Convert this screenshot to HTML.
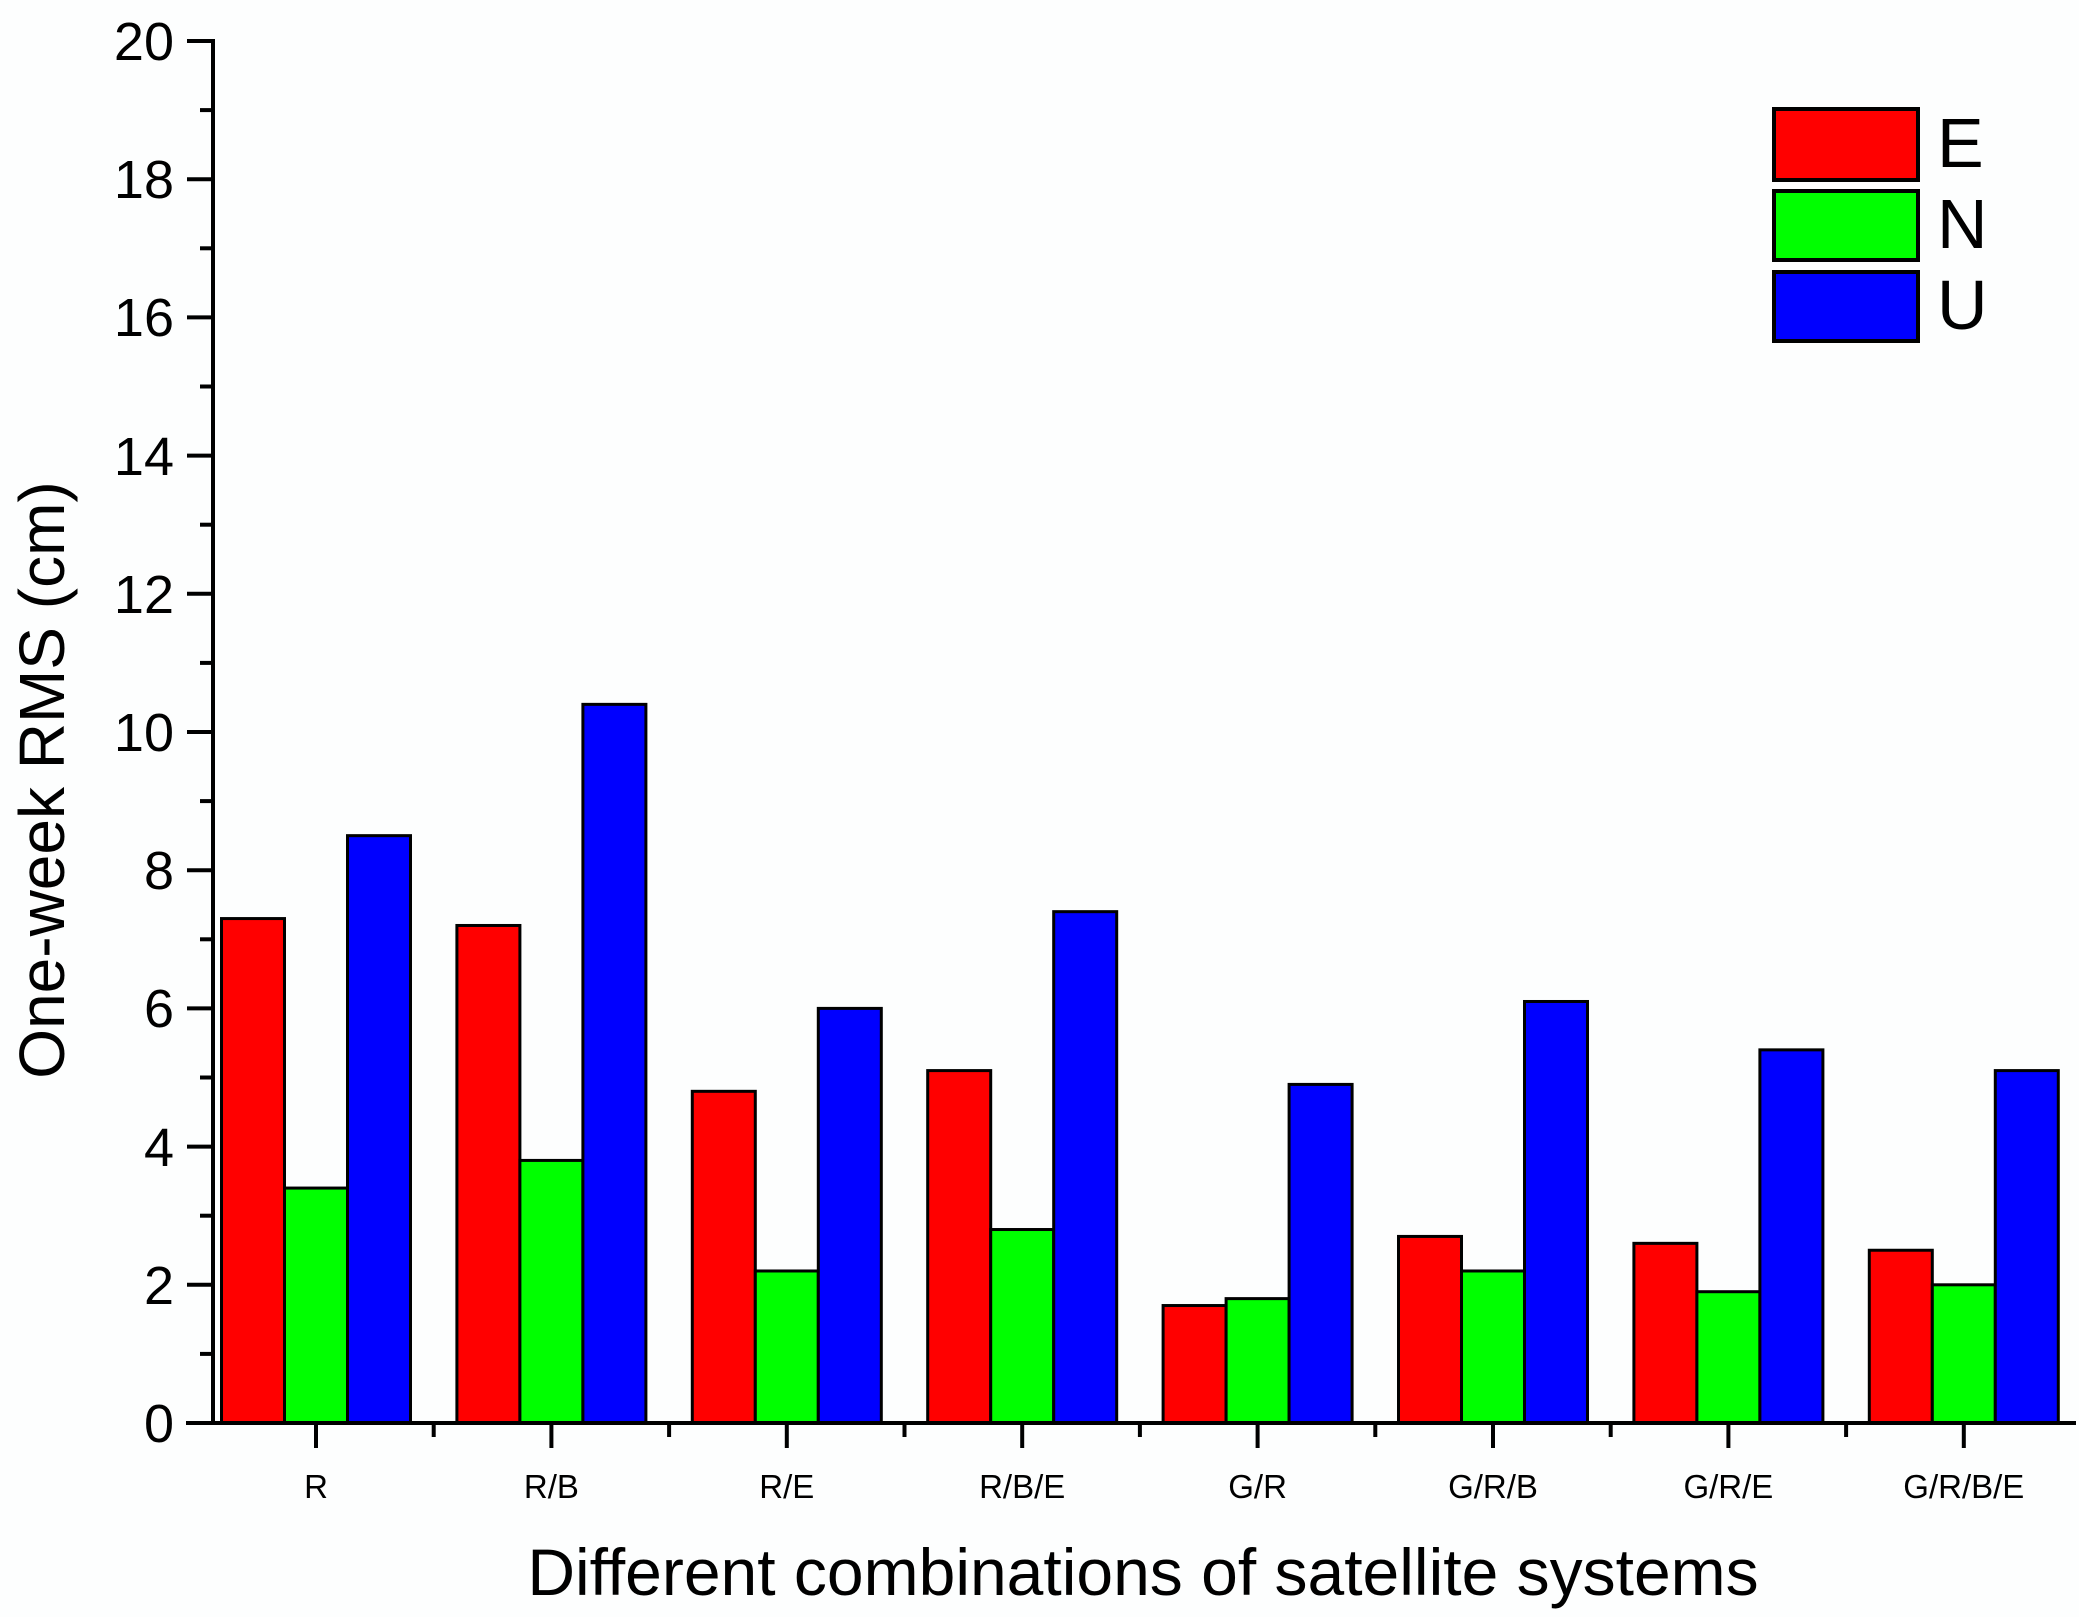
<!DOCTYPE html>
<html><head><meta charset="utf-8"><style>
html,body{margin:0;padding:0;background:#fff;}
svg{display:block;font-family:"Liberation Sans",Arial,sans-serif;}
</style></head><body>
<svg width="2079" height="1617" viewBox="0 0 2079 1617" xmlns="http://www.w3.org/2000/svg">
<rect width="2079" height="1617" fill="#fdfefe"/>
<g id="bars" stroke="#000" stroke-width="3"></g>
<script>
(function(){
var E=[7.3,7.2,4.8,5.1,1.7,2.7,2.6,2.5],N=[3.4,3.8,2.2,2.8,1.8,2.2,1.9,2.0],U=[8.5,10.4,6.0,7.4,4.9,6.1,5.4,5.1];
var y0=1423,pu=69.1,cx0=316,st=235.4,w=63,g=document.getElementById('bars'),ns='http://www.w3.org/2000/svg';
function r(x,v,c){var e=document.createElementNS(ns,'rect');e.setAttribute('x',x);e.setAttribute('y',y0-v*pu);e.setAttribute('width',w);e.setAttribute('height',v*pu);e.setAttribute('fill',c);g.appendChild(e);}
for(var i=0;i<8;i++){var c=cx0+i*st;r(c-94.5,E[i],'#ff0000');r(c-31.5,N[i],'#00ff00');r(c+31.5,U[i],'#0000ff');}
})();
</script>
<g stroke="#000" stroke-width="4" fill="none">
<line x1="213" y1="39" x2="213" y2="1425"/>
<line x1="186" y1="1423" x2="2076" y2="1423"/>
</g>
<g stroke="#000" stroke-width="4">
<line x1="187" y1="41" x2="213" y2="41"/><line x1="200" y1="110.1" x2="213" y2="110.1"/>
<line x1="187" y1="179.2" x2="213" y2="179.2"/><line x1="200" y1="248.3" x2="213" y2="248.3"/>
<line x1="187" y1="317.4" x2="213" y2="317.4"/><line x1="200" y1="386.5" x2="213" y2="386.5"/>
<line x1="187" y1="455.6" x2="213" y2="455.6"/><line x1="200" y1="524.7" x2="213" y2="524.7"/>
<line x1="187" y1="593.8" x2="213" y2="593.8"/><line x1="200" y1="662.9" x2="213" y2="662.9"/>
<line x1="187" y1="732" x2="213" y2="732"/><line x1="200" y1="801.1" x2="213" y2="801.1"/>
<line x1="187" y1="870.2" x2="213" y2="870.2"/><line x1="200" y1="939.3" x2="213" y2="939.3"/>
<line x1="187" y1="1008.4" x2="213" y2="1008.4"/><line x1="200" y1="1077.5" x2="213" y2="1077.5"/>
<line x1="187" y1="1146.6" x2="213" y2="1146.6"/><line x1="200" y1="1215.7" x2="213" y2="1215.7"/>
<line x1="187" y1="1284.8" x2="213" y2="1284.8"/><line x1="200" y1="1353.9" x2="213" y2="1353.9"/>
<line x1="316" y1="1423" x2="316" y2="1448"/><line x1="433.7" y1="1423" x2="433.7" y2="1437"/>
<line x1="551.4" y1="1423" x2="551.4" y2="1448"/><line x1="669.1" y1="1423" x2="669.1" y2="1437"/>
<line x1="786.8" y1="1423" x2="786.8" y2="1448"/><line x1="904.5" y1="1423" x2="904.5" y2="1437"/>
<line x1="1022.2" y1="1423" x2="1022.2" y2="1448"/><line x1="1139.9" y1="1423" x2="1139.9" y2="1437"/>
<line x1="1257.6" y1="1423" x2="1257.6" y2="1448"/><line x1="1375.3" y1="1423" x2="1375.3" y2="1437"/>
<line x1="1493" y1="1423" x2="1493" y2="1448"/><line x1="1610.7" y1="1423" x2="1610.7" y2="1437"/>
<line x1="1728.4" y1="1423" x2="1728.4" y2="1448"/><line x1="1846.1" y1="1423" x2="1846.1" y2="1437"/>
<line x1="1963.8" y1="1423" x2="1963.8" y2="1448"/>
</g>
<g font-size="54" text-anchor="end" fill="#000">
<text x="174" y="60">20</text><text x="174" y="198">18</text><text x="174" y="336">16</text>
<text x="174" y="475">14</text><text x="174" y="613">12</text><text x="174" y="751">10</text>
<text x="174" y="889">8</text><text x="174" y="1027">6</text><text x="174" y="1166">4</text>
<text x="174" y="1304">2</text><text x="174" y="1442">0</text>
</g>
<g font-size="33" text-anchor="middle" fill="#000">
<text x="316" y="1498">R</text><text x="551.4" y="1498">R/B</text><text x="786.8" y="1498">R/E</text>
<text x="1022.2" y="1498">R/B/E</text><text x="1257.6" y="1498">G/R</text><text x="1493" y="1498">G/R/B</text>
<text x="1728.4" y="1498">G/R/E</text><text x="1963.8" y="1498">G/R/B/E</text>
</g>
<text x="1143" y="1595" font-size="66" text-anchor="middle">Different combinations of satellite systems</text>
<text transform="translate(64,780) rotate(-90)" font-size="64" text-anchor="middle">One-week RMS (cm)</text>
<g stroke="#000" stroke-width="4">
<rect x="1774" y="109" width="144" height="71" fill="#ff0000"/>
<rect x="1774" y="191" width="144" height="69" fill="#00ff00"/>
<rect x="1774" y="272" width="144" height="69" fill="#0000ff"/>
</g>
<g font-size="70" fill="#000">
<text x="1937" y="167">E</text><text x="1937" y="248">N</text><text x="1937" y="329">U</text>
</g>
</svg>
</body></html>
